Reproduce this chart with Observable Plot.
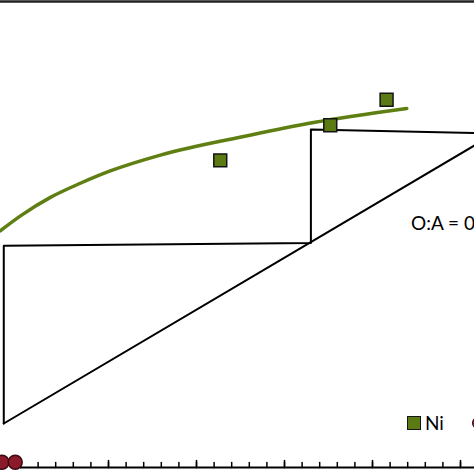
<!DOCTYPE html>
<html><head><meta charset="utf-8">
<script src="https://cdn.jsdelivr.net/npm/d3@7"></script>
<script src="https://cdn.jsdelivr.net/npm/@observablehq/plot@0.6"></script>
<style>
html,body{margin:0;padding:0;background:#fff;overflow:hidden}
#wrap{position:relative;width:474px;height:474px;overflow:hidden;font-family:Lato,"Open Sans",sans-serif}
#wrap svg{position:absolute;left:0;top:0}
.lbl{position:absolute;font-size:19px;line-height:19px;color:#000;white-space:nowrap}
.sq{position:absolute;width:12px;height:12px;background:#5b7a14;border:1.5px solid #151515}
.ci{position:absolute;width:12px;height:12px;border-radius:50%;background:#8b1a2a;border:1.5px solid #3a0a10}
</style></head><body>
<div id="wrap"></div>
<script>
// Equilibrium curve (fitted), aqueous vs organic
const curveX = [-0.23, 0.00, 0.34, 0.68, 1.02, 1.59, 2.58, 3.33, 4.39];
const curveY = [2.69, 2.86, 3.07, 3.23, 3.37, 3.55, 3.77, 3.92, 4.08];
// Ni experimental points
const niX = [2.27, 3.52, 4.16];
const niY = [3.49, 3.89, 4.18];
// Second series (red circles), near origin
const coX = [-0.21, -0.06];
const coY = [0.06, 0.06];
// McCabe-Thiele staircase
const stairX = [5.20, 3.30, 3.30, -0.19, -0.19];
const stairY = [3.80, 3.84, 2.55, 2.52, 0.50];
// Operating line
const opX = [-0.19, 5.16];
const opY = [0.50, 3.66];
// x-axis ticks
const minorTicks = [0,0.2,0.4,0.6,0.8,1,1.2,1.4,1.6,1.8,2,2.2,2.4,2.6,2.8,3,3.2,3.4,3.6,3.8,4,4.2,4.4,4.6,4.8,5,5.2];
const majorTicks = [0,1,2,3,4,5];
const ratioLabel = "O:A = 0";
const seriesNames = ["Ni", "Co"];

const xDomain = [-20/88, 454/88];
const yDomain = [0, 467/88];

const curve = curveX.map((x,i)=>({x, y: curveY[i]}));
const ni = niX.map((x,i)=>({x, y: niY[i]}));
const co = coX.map((x,i)=>({x, y: coY[i]}));
const stair = stairX.map((x,i)=>({x, y: stairY[i]}));
const op = opX.map((x,i)=>({x, y: opY[i]}));

const tickShape = {draw(ctx, l){ ctx.moveTo(0,0); ctx.lineTo(0,-l); }};

const chart = Plot.plot({
  width: 474, height: 474,
  marginTop: 0, marginRight: 0, marginBottom: 7, marginLeft: 0,
  x: {domain: xDomain, axis: null},
  y: {domain: yDomain, axis: null},
  style: {background: "transparent", overflow: "hidden"},
  marks: [
    Plot.ruleY([yDomain[1]], {stroke: "#222", strokeWidth: 2.4, dy: 1}),
    Plot.line(stair, {x: "x", y: "y", stroke: "#000", strokeWidth: 2}),
    Plot.line(op, {x: "x", y: "y", stroke: "#000", strokeWidth: 2}),
    Plot.line(curve, {x: "x", y: "y", curve: "monotone-x", stroke: "#5f7f12", strokeWidth: 3.5}),
    Plot.dot(ni, {x: "x", y: "y", symbol: "square", r: 7.3, fill: "#5b7a14", stroke: "#151515", strokeWidth: 1.5}),
    Plot.ruleY([{y: 0, x1: 0, x2: xDomain[1]}], {y: "y", x1: "x1", x2: "x2", stroke: "#000", strokeWidth: 2}),
    Plot.vector(minorTicks, {x: d => d, y: () => 0, length: 5, rotate: 0, anchor: "start", shape: tickShape, stroke: "#000", strokeWidth: 1.5}),
    Plot.vector(majorTicks, {x: d => d, y: () => 0, length: 7, rotate: 0, anchor: "start", shape: tickShape, stroke: "#000", strokeWidth: 1.5}),
    Plot.dot(co, {x: "x", y: "y", r: 7, fill: "#8b1a2a", stroke: "#3a0a10", strokeWidth: 1.5})
  ]
});

const wrap = document.getElementById("wrap");
wrap.appendChild(chart);

function add(cls, left, top, txt){
  const d = document.createElement("div");
  d.className = cls; d.style.left = left + "px"; d.style.top = top + "px";
  if (txt) d.textContent = txt;
  wrap.appendChild(d);
}
add("lbl", 411, 213, ratioLabel);
add("sq", 407, 416);
add("lbl", 425, 413, seriesNames[0]);
add("ci", 472, 416);
</script>
</body></html>
